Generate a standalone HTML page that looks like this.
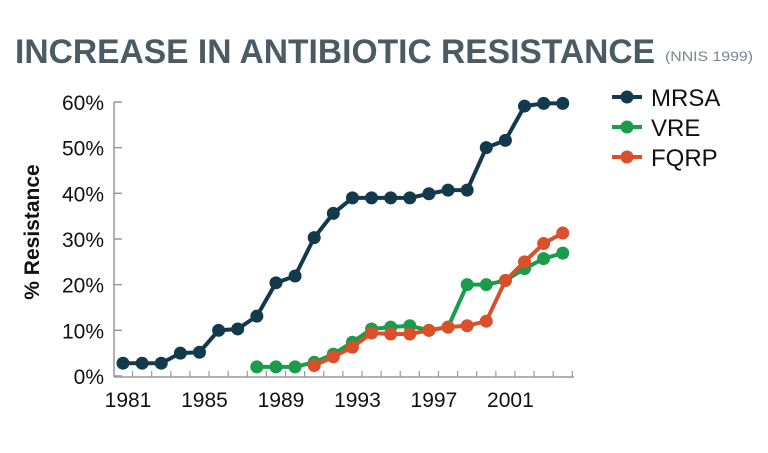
<!DOCTYPE html>
<html><head><meta charset="utf-8"><style>
body{margin:0;background:#fff;width:768px;height:453px;overflow:hidden}
svg{display:block;font-family:"Liberation Sans",sans-serif}
</style></head><body>
<svg id="chart" width="768" height="453">
<text x="15" y="63" font-size="34" font-weight="bold" fill="#4b5a63" textLength="640" lengthAdjust="spacingAndGlyphs">INCREASE IN ANTIBIOTIC RESISTANCE</text>
<text x="665" y="61" font-size="14" fill="#7a868c" textLength="88" lengthAdjust="spacingAndGlyphs">(NNIS 1999)</text>
<text transform="translate(39,232) rotate(-90)" text-anchor="middle" font-size="21" font-weight="bold" fill="#111">% Resistance</text>
<g id="axes"></g><g id="series"></g><g id="legend"></g>
</svg>
<script>
const years=[1981,1982,1983,1984,1985,1986,1987,1988,1989,1990,1991,1992,1993,1994,1995,1996,1997,1998,1999,2000,2001,2002,2003,2004];
const mrsa=[2.8,2.8,2.8,5,5.2,10,10.3,13.1,20.4,21.9,30.3,35.6,39,39,39,39,39.9,40.7,40.7,50,51.6,59.1,59.7,59.7];
const vre=[null,null,null,null,null,null,null,2,2,2,3,4.8,7.4,10.3,10.7,11,10,10.7,20,20,20.9,23.5,25.7,26.9];
const fqrp=[null,null,null,null,null,null,null,null,null,null,2.3,4.2,6.3,9.4,9.2,9.2,10,10.7,11,12,20.9,25,29,31.3];
const yTicks=[0,10,20,30,40,50,60];
const xLabels=[1981,1985,1989,1993,1997,2001];
const NS="http://www.w3.org/2000/svg";
const X=y=>123+(y-1981)*19.12;
const Y=v=>376-v*4.567;
function mk(t,a,p){const e=document.createElementNS(NS,t);for(const k in a)e.setAttribute(k,a[k]);p.appendChild(e);return e;}
const ax=document.getElementById('axes');
let l=mk('line',{x1:114,y1:Y(60),x2:114,y2:377,stroke:'#999','stroke-width':1.5},ax);


l=mk('line',{x1:114,y1:377,x2:574,y2:377,stroke:'#999','stroke-width':1.5},ax);


yTicks.forEach(v=>{
 mk('line',{x1:114,y1:Y(v),x2:122,y2:Y(v),stroke:'#999','stroke-width':1.5},ax);
 const t=mk('text',{x:104,y:Y(v)+8,'text-anchor':'end','font-size':21,fill:'#111'},ax);t.textContent=v+'%';
 
 
});
for(let i=0;i<24;i++){mk('line',{x1:X(1981.5)+i*19.12,y1:377,x2:X(1981.5)+i*19.12,y2:371,stroke:'#999','stroke-width':1.2},ax);}
xLabels.forEach(yr=>{
 const t=mk('text',{x:X(yr)+5,y:407,'text-anchor':'middle','font-size':21,fill:'#111'},ax);t.textContent=yr;
 
 
});
const sg=document.getElementById('series');
function draw(vals,col,name){
 const g=mk('g',{},sg);
 
 
 const pts=[];vals.forEach((v,i)=>{if(v!=null)pts.push([X(years[i]),Y(v)]);});
 mk('polyline',{points:pts.map(p=>p.join(',')).join(' '),fill:'none',stroke:col,'stroke-width':4,'stroke-linejoin':'round'},g);
 pts.forEach(p=>{const c=mk('circle',{cx:p[0],cy:p[1],r:6.5,fill:col},g);
  
  });
}
draw(mrsa,'#123a4c','mrsa');
draw(vre,'#1a9c4c','vre');
draw(fqrp,'#d9502a','fqrp');
const lg=document.getElementById('legend');
[['MRSA','#123a4c'],['VRE','#1a9c4c'],['FQRP','#d9502a']].forEach((s,i)=>{
 const y=97+i*30;const g=mk('g',{},lg);
 
 
 mk('line',{x1:612,y1:y,x2:642,y2:y,stroke:s[1],'stroke-width':4},g);
 mk('circle',{cx:627,cy:y,r:6.5,fill:s[1]},g);
 const t=mk('text',{x:651,y:y+9,'font-size':24,fill:'#111'},g);t.textContent=s[0];
});
</script>
</body></html>
